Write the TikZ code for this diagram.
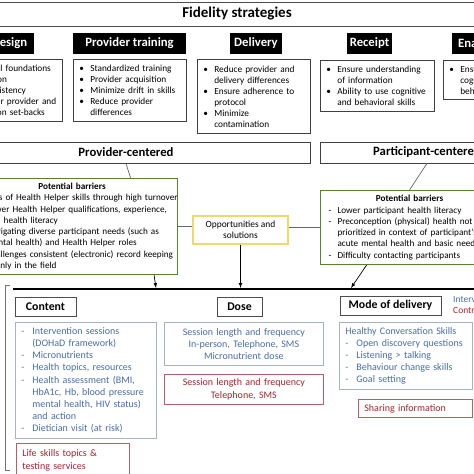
\documentclass[tikz,border=0pt]{standalone}
\usepackage{fontspec}
\setmainfont{Carlito}
\usetikzlibrary{arrows.meta}
\definecolor{bluetxt}{RGB}{72,108,168}
\definecolor{blueline}{RGB}{165,180,200}
\definecolor{redtxt}{RGB}{165,35,45}
\definecolor{redline}{RGB}{185,95,100}
\definecolor{barrgreen}{RGB}{84,130,53}
\definecolor{oppyellow}{RGB}{242,215,105}
\newcommand{\bitem}{\makebox[11pt][l]{\textbullet}}
\newcommand{\bcont}{\hspace*{11pt}}
\newcommand{\ditem}[1][11pt]{\makebox[#1][l]{-}}
\newcommand{\dcont}[1][11pt]{\hspace*{#1}}

\begin{document}
\begin{tikzpicture}[x=1pt,y=-1pt,>=latex,
  head/.style={fill=black,text=white,font=\bfseries\fontsize{12.7}{15}\selectfont,minimum height=21pt,inner sep=0pt},
  listbox/.style={draw=black!75,line width=0.7pt,anchor=north west,inner xsep=6pt,inner ysep=0pt,align=left,font=\fontsize{9.3}{11}\selectfont},
  rowhead/.style={draw=black!75,line width=0.7pt,minimum height=21pt,inner sep=0pt,font=\bfseries\fontsize{12.7}{15}\selectfont},
  barrier/.style={draw=barrgreen,line width=1.1pt,anchor=north west,inner xsep=8pt,inner ysep=0pt,align=left,font=\fontsize{9.2}{11.3}\selectfont},
  subhead/.style={draw=black!70,line width=0.8pt,inner sep=0pt,minimum height=19pt,font=\bfseries\fontsize{11.8}{14}\selectfont},
  bluebox/.style={draw=blueline,line width=0.8pt,anchor=north west,inner xsep=6pt,inner ysep=0pt,text=bluetxt,font=\fontsize{10}{12.2}\selectfont},
  redbox/.style={draw=redline,line width=0.8pt,anchor=north west,inner xsep=6pt,inner ysep=0pt,text=redtxt,font=\fontsize{10}{12.2}\selectfont},
  link/.style={draw=black!60,line width=0.7pt}]
  \useasboundingbox (0,0) rectangle (474,474);
  \clip (0,0) rectangle (474,474);

  \node[draw=black!70,line width=0.7pt,minimum width=520pt,minimum height=24pt,font=\bfseries\fontsize{15}{18}\selectfont] (fid) at (237,14) {Fidelity strategies};

  \node[head,minimum width=49pt]  (hdes)   at (9.5,43.5)   {Design};
  \node[head,minimum width=113pt] (hprov)  at (129.5,43.5) {Provider training};
  \node[head,minimum width=52pt]  (hdel)   at (256,43.5)   {Delivery};
  \node[head,minimum width=45pt]  (hrec)   at (369.5,43.5) {Receipt};
  \node[head,minimum width=69pt]  (henact) at (486.5,43.5) {Enactment};

  \node[listbox,text width=107pt,minimum height=62pt] (ldes) at (-57,59)
    {\bitem Theoretical foundations\\ \bitem Intervention\\ \bitem Dose consistency\\
     \bitem Prepare for provider and\\ \bcont intervention set-backs};
  \node[listbox,text width=101pt,minimum height=62pt] (lprov) at (73,59)
    {\bitem Standardized training\\ \bitem Provider acquisition\\ \bitem Minimize drift in skills\\
     \bitem Reduce provider\\ \bcont differences};
  \node[listbox,text width=101pt,minimum height=74pt] (ldel) at (197,59)
    {\bitem Reduce provider and\\ \bcont delivery differences\\ \bitem Ensure adherence to\\
     \bcont protocol\\ \bitem Minimize\\ \bcont contamination};
  \node[listbox,text width=102pt,minimum height=51pt] (lrec) at (320,60)
    {\bitem Ensure understanding\\ \bcont of information\\ \bitem Ability to use cognitive\\
     \bcont and behavioral skills};
  \node[listbox,text width=101pt,minimum height=39pt] (lenact) at (443,60)
    {\bitem Ensure use of\\ \bcont cognitive and\\ \bcont behavioral skills};

  \node[rowhead,minimum width=368pt] (provc) at (126,152.5) {Provider-centered};
  \node[rowhead,minimum width=214pt] (partc) at (427,152.5) {Participant-centered};

  \node[barrier,text width=195pt,minimum height=96pt] (provb) at (-34,178)
    {{\centering\bfseries Potential barriers\par}
     \ditem[12pt]\mbox{Loss of Health Helper skills through high turnover}\\
     \ditem[12pt]Lower Health Helper qualifications, experience,\\
     \dcont[12pt]and health literacy\\
     \ditem[12pt]Navigating diverse participant needs (such as\\
     \dcont[12pt]mental health) and Health Helper roles\\
     \ditem[12pt]\mbox{Challenges consistent (electronic) record keeping}\\
     \dcont[12pt]mainly in the field};
  \node[barrier,text width=162pt,minimum height=74pt] (partb) at (320,190)
    {{\centering\bfseries Potential barriers\par}
     \ditem[9pt]Lower participant health literacy\\
     \ditem[9pt]Preconception (physical) health not\\
     \dcont[9pt]prioritized in context of participant's\\
     \dcont[9pt]acute mental health and basic needs\\
     \ditem[9pt]Difficulty contacting participants};

  \node[draw=oppyellow,line width=1.1pt,minimum width=95pt,minimum height=28pt,inner sep=0pt,align=center,font=\fontsize{9.4}{11}\selectfont] (opp) at (240.5,230) {Opportunities and\\solutions};

  \draw[link] (provc.south) -- ([xshift=58.5pt]provb.north);
  \draw[link] (partc.south) -- (partb.north);
  \draw[link] (provb.east) -- (provb.east -| opp.west);
  \draw[link] (opp.east |- partb.west) -- (partb.west);

  \coordinate (barl) at (13,289);
  \coordinate (barr) at (480,289);
  \coordinate (provend) at (156,288);
  \coordinate (partend) at (351,288);
  \draw[line width=1.3pt] (barl) -- (barr);
  \draw[->,line width=0.7pt] ([xshift=-24pt]provb.south east) -- (provend);
  \draw[->,line width=0.7pt] (opp.south) -- (opp.south |- provend);
  \draw[->,line width=0.7pt] ([xshift=-43pt]partb.south) -- (partend);

  \draw[black!55,line width=0.8pt] (10,285) -- (5,285) -- (5,470) -- (10,470);

  \node[subhead,minimum width=61pt]  (hcont) at (45.5,306.5)  {Content};
  \node[subhead,minimum width=45pt]  (hdose) at (239.5,307)   {Dose};
  \node[subhead,minimum width=101pt] (hmode) at (390.5,305.5) {Mode of delivery};

  \node[anchor=west,inner sep=0pt,text=bluetxt,font=\fontsize{9.5}{11}\selectfont] (legint) at (453,299) {Intervention};
  \node[anchor=west,inner sep=0pt,text=redtxt,font=\fontsize{9.5}{11}\selectfont]  (legcon) at (453,310) {Control};

  \node[bluebox,align=left,text width=129pt,minimum height=116pt] (bcont) at (15,322)
    {\ditem Intervention sessions\\ \dcont (DOHaD framework)\\ \ditem Micronutrients\\
     \ditem Health topics, resources\\ \ditem Health assessment (BMI,\\
     \dcont HbA1c, Hb, blood pressure\\ \dcont mental health, HIV status)\\
     \dcont and action\\ \ditem Dietician visit (at risk)};
  \node[redbox,align=left,text width=101pt,minimum height=34pt] (rcont) at (16,443)
    {Life skills topics \&\\testing services};
  \node[bluebox,align=center,text width=147pt,minimum height=43pt] (bdose) at (164,322)
    {Session length and frequency\\In-person, Telephone, SMS\\Micronutrient dose};
  \node[redbox,align=center,text width=147pt,minimum height=30pt] (rdose) at (164,374)
    {Session length and frequency\\Telephone, SMS};
  \node[bluebox,align=left,text width=121pt,minimum height=67pt] (bmode) at (339,322)
    {Healthy Conversation Skills\\ \ditem Open discovery questions\\ \ditem Listening > talking\\
     \ditem Behaviour change skills\\ \ditem Goal setting};
  \node[redbox,align=left,text width=102pt,minimum height=18pt] (rmode) at (358,399)
    {Sharing information};
\end{tikzpicture}
\end{document}
